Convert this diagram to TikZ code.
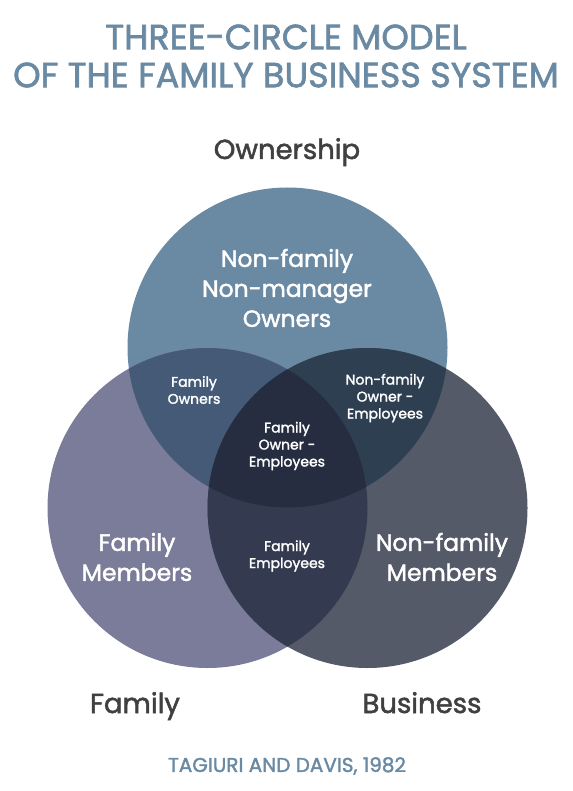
\documentclass[tikz,border=0pt]{standalone}
\usepackage{fontspec}
\setmainfont{Poppins}[FakeBold=1.8]
\usetikzlibrary{positioning}
\definecolor{titleblue}{RGB}{106,138,163}
\definecolor{ownblue}{RGB}{106,138,163}
\definecolor{famviolet}{RGB}{122,124,153}
\definecolor{busgrey}{RGB}{85,90,105}
\definecolor{ownfam}{RGB}{68,90,119}
\definecolor{ownbus}{RGB}{47,63,82}
\definecolor{fambus}{RGB}{52,59,80}
\definecolor{allthree}{RGB}{38,45,64}
\definecolor{labelgrey}{RGB}{64,64,64}

\begin{document}
\begin{tikzpicture}[x=1pt,y=-1pt,
  region/.style={text=white,align=center,inner sep=0pt},
  bigregion/.style={region,font=\fontsize{23.5}{30}\selectfont},
  smallregion/.style={region,font=\fontsize{14}{17}\selectfont},
  circlename/.style={text=labelgrey,font=\fontsize{27.5}{30}\selectfont,inner sep=0pt,anchor=base}]
\useasboundingbox (0,0) rectangle (572,791);
% circle centres
\coordinate (own) at (287.5,347.5);
\coordinate (fam) at (207.5,508);
\coordinate (bus) at (367.5,508);
% the three circles
\fill[ownblue] (own) circle[radius=160pt];
\fill[famviolet] (fam) circle[radius=160pt];
\fill[busgrey] (bus) circle[radius=160pt];
% overlaps
\begin{scope}
  \clip (own) circle[radius=160pt];
  \fill[ownfam] (fam) circle[radius=160pt];
  \fill[ownbus] (bus) circle[radius=160pt];
\end{scope}
\begin{scope}
  \clip (fam) circle[radius=160pt];
  \fill[fambus] (bus) circle[radius=160pt];
  \clip (own) circle[radius=160pt];
  \fill[allthree] (bus) circle[radius=160pt];
\end{scope}
% title
\node[text=titleblue,align=center,font=\fontsize{35}{38}\selectfont,inner sep=0pt] (title) at (286,56)
  {THREE-CIRCLE MODEL\\OF THE FAMILY BUSINESS SYSTEM};
% circle names
\node[circlename] (ownership) at (287,159) {Ownership};
\node[circlename] (family) at (135,713) {Family};
\node[circlename] (business) at (422,713) {Business};
% regions
\node[bigregion] (nfnm) at (287,288) {Non-family\\Non-manager\\Owners};
\node[smallregion] (fo) at (194,390) {Family\\Owners};
\node[smallregion] (nfoe) at (385,398) {Non-family\\Owner -\\Employees};
\node[smallregion] (foe) at (287,446) {Family\\Owner -\\Employees};
\node[bigregion] (fm) at (137,557) {Family\\Members};
\node[smallregion] (fe) at (287,556) {Family\\Employees};
\node[bigregion] (nfm) at (442,557) {Non-family\\Members};
% source
\node[text=titleblue,font=\fontsize{20}{24}\selectfont,inner sep=0pt] (source) at (287,766)
  {TAGIURI AND DAVIS, 1982};
\end{tikzpicture}
\end{document}
